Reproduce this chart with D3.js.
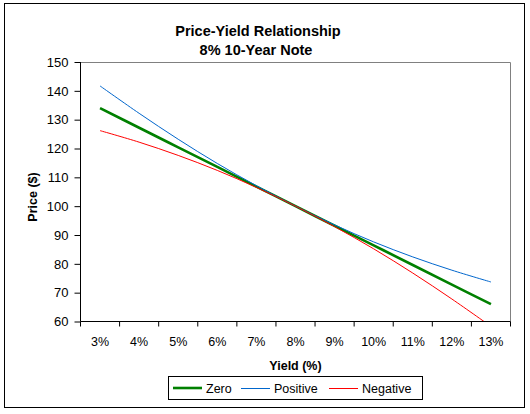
<!DOCTYPE html>
<meta charset="utf-8">
<style>
  body { margin: 0; background: #fff; }
  text { font-family: Arial, "Liberation Sans", sans-serif; }
</style>
<svg width="530" height="414"></svg>
<script src="https://d3js.org/d3.v7.min.js"></script>
<script>
  // data
  var yields = ["3%", "4%", "5%", "6%", "7%", "8%", "9%", "10%", "11%", "12%", "13%"];
  var zero = [134.0, 127.2, 120.4, 113.6, 106.8, 100.0, 93.2, 86.4, 79.6, 72.8, 66.0];
  var positive = [141.7, 132.2, 123.2, 114.8, 107.1, 100.0, 93.5, 87.6, 82.4, 77.8, 73.7];
  var negative = [126.2, 122.2, 117.6, 112.4, 106.5, 100.0, 92.9, 85.2, 76.8, 67.8, 58.3];
  var yTicks = [60, 70, 80, 90, 100, 110, 120, 130, 140, 150];

  var series = [
    { name: "Zero", values: zero, color: "#008000", width: 2.6 },
    { name: "Positive", values: positive, color: "#0066cc", width: 1 },
    { name: "Negative", values: negative, color: "#ff0000", width: 1 }
  ];

  var svg = d3.select("svg");
  var pLeft = 80.5, pRight = 510.5, pTop = 62, pBottom = 321.5;

  // chart frame
  svg.append("rect")
    .attr("x", 4.5).attr("y", 3.5)
    .attr("width", 520).attr("height", 404)
    .attr("fill", "#fff").attr("stroke", "#000").attr("stroke-width", 1);

  var x = d3.scaleBand().domain(yields).range([pLeft, pRight]);
  var y = d3.scaleLinear().domain([60, 150]).range([pBottom, pTop]);

  // plot area border (top & right gray)
  svg.append("path")
    .attr("d", "M" + pLeft + "," + (pTop + 0.5) + "H" + pRight + "V" + pBottom)
    .attr("fill", "none").attr("stroke", "#808080");

  svg.append("defs").append("clipPath").attr("id", "clip")
    .append("rect").attr("x", pLeft).attr("y", pTop)
    .attr("width", pRight - pLeft).attr("height", pBottom - pTop);

  var line = d3.line()
    .x(function (d, i) { return x(yields[i]) + x.bandwidth() / 2; })
    .y(function (d) { return y(d); })
    .curve(d3.curveCatmullRom);

  svg.append("g").attr("clip-path", "url(#clip)")
    .selectAll("path")
    .data(series)
    .enter().append("path")
    .attr("d", function (d) { return line(d.values); })
    .attr("fill", "none")
    .attr("stroke", function (d) { return d.color; })
    .attr("stroke-width", function (d) { return d.width; });

  // y axis
  var yAxis = svg.append("g")
    .attr("transform", "translate(" + pLeft + ",0)")
    .call(d3.axisLeft(y).tickValues(yTicks).tickSize(6).tickPadding(6));
  // x axis with ticks on category boundaries
  var xAxis = svg.append("g")
    .attr("transform", "translate(0," + pBottom + ")")
    .call(d3.axisBottom(x).tickSize(0).tickPadding(16));
  xAxis.selectAll(".tick")
    .append("line")
    .attr("x1", -x.bandwidth() / 2).attr("x2", -x.bandwidth() / 2)
    .attr("y2", 5).attr("stroke", "#000");
  xAxis.append("line")
    .attr("x1", pRight).attr("x2", pRight).attr("y2", 5).attr("stroke", "#000");

  svg.selectAll(".domain").attr("stroke", "#000");
  yAxis.select(".domain").attr("d", "M0," + pTop + "V" + pBottom);
  xAxis.select(".domain").attr("d", "M" + pLeft + ",0H" + pRight);
  svg.selectAll(".tick text").attr("fill", "#000")
    .style("font-family", "Arial, 'Liberation Sans', sans-serif");
  yAxis.selectAll(".tick text").attr("font-size", 13);
  xAxis.selectAll(".tick text").attr("font-size", 12.5);

  // titles
  svg.append("text").attr("x", 258).attr("y", 36).attr("text-anchor", "middle")
    .attr("font-size", 14.5).attr("font-weight", "bold").text("Price-Yield Relationship");
  svg.append("text").attr("x", 256).attr("y", 55).attr("text-anchor", "middle")
    .attr("font-size", 14.5).attr("font-weight", "bold").text("8% 10-Year Note");
  svg.append("text").attr("x", (pLeft + pRight) / 2).attr("y", 370).attr("text-anchor", "middle")
    .attr("font-size", 12.5).attr("font-weight", "bold").text("Yield (%)");
  svg.append("text")
    .attr("transform", "translate(37," + 197 + ") rotate(-90)")
    .attr("text-anchor", "middle")
    .attr("font-size", 12.5).attr("font-weight", "bold").text("Price ($)");

  // legend
  var legend = svg.append("g");
  legend.append("rect").attr("x", 168.5).attr("y", 376.5)
    .attr("width", 254).attr("height", 23)
    .attr("fill", "#fff").attr("stroke", "#000");
  var legX = [173, 241, 329];
  var item = legend.selectAll(".item").data(series).enter().append("g")
    .attr("transform", function (d, i) { return "translate(" + legX[i] + ",388)"; });
  item.append("line").attr("x1", 0).attr("x2", 29)
    .attr("y1", function (d) { return d.width > 2 ? 0 : 0.5; })
    .attr("y2", function (d) { return d.width > 2 ? 0 : 0.5; })
    .attr("stroke", function (d) { return d.color; })
    .attr("stroke-width", function (d) { return d.width; });
  item.append("text").attr("x", 33).attr("y", 5)
    .attr("font-size", 12.5).text(function (d) { return d.name; });
</script>
